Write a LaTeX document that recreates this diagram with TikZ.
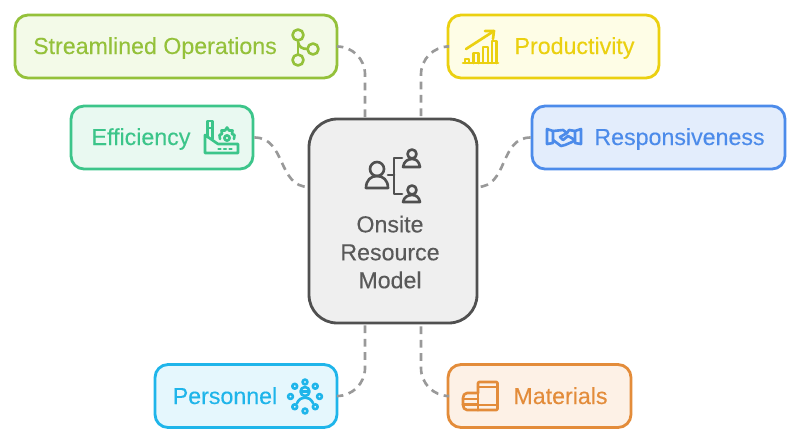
\documentclass[tikz,border=0pt]{standalone}
\usepackage{fontspec}
\setmainfont{Liberation Sans}
\newfontfamily\labelfont{Liberation Sans}[FakeBold=0.25]

\definecolor{slinecol}{HTML}{94C13A}
\definecolor{sfillcol}{HTML}{F3FAE8}
\definecolor{plinecol}{HTML}{EBD010}
\definecolor{pfillcol}{HTML}{FEFDE6}
\definecolor{elinecol}{HTML}{3CC58A}
\definecolor{efillcol}{HTML}{E9F9F1}
\definecolor{rlinecol}{HTML}{4C8BEA}
\definecolor{rfillcol}{HTML}{E3EDFC}
\definecolor{nlinecol}{HTML}{1FB5EA}
\definecolor{nfillcol}{HTML}{E5F7FD}
\definecolor{mlinecol}{HTML}{E38C3A}
\definecolor{mfillcol}{HTML}{FDF1E6}
\definecolor{clinecol}{HTML}{505050}
\definecolor{cfillcol}{HTML}{EFEFEF}
\definecolor{ctextcol}{HTML}{595959}
\definecolor{linkcol}{HTML}{999999}

\begin{document}
\begin{tikzpicture}
    [
        x=0.02cm, y=-0.02cm,
        box/.style 2 args={draw=#1, fill=#2, line width=1.6pt, rounded corners=0.26cm, minimum height=1.26cm, inner sep=0pt},
        label/.style={anchor=base, inner sep=0pt, font=\labelfont\fontsize{13.2}{15.9}\selectfont, text=#1},
        link/.style={draw=linkcol, line width=1.5pt, dash pattern=on 4.4pt off 3.2pt},
        icon/.style={draw=#1, line width=1.5pt, line cap=round, line join=round},
    ]

    \useasboundingbox (0,0) rectangle (800,443);

    % connectors first, boxes on top
    \node (model) at (393,221) [box={clinecol}{cfillcol}, minimum width=3.36cm, minimum height=4.08cm, rounded corners=0.56cm] {};
    \coordinate (tl) at (365,119);
    \coordinate (tr) at (421,119);
    \coordinate (bl) at (365,323);
    \coordinate (br) at (421,323);
    \coordinate (ml) at (309,187);
    \coordinate (mr) at (477,187);

    \node (streamlined) at (176,46.5)  [box={slinecol}{sfillcol}, minimum width=6.44cm] {};
    \node (productivity) at (553.5,46.5) [box={plinecol}{pfillcol}, minimum width=4.22cm] {};
    \node (efficiency) at (162,137.5)  [box={elinecol}{efillcol}, minimum width=3.64cm] {};
    \node (responsive) at (658.5,137.5) [box={rlinecol}{rfillcol}, minimum width=5.06cm] {};
    \node (personnel) at (246,396)     [box={nlinecol}{nfillcol}, minimum width=3.64cm] {};
    \node (materials) at (539.5,396)   [box={mlinecol}{mfillcol}, minimum width=3.66cm] {};

    \draw [link, rounded corners=0.56cm] (streamlined.east) -| (tl);
    \draw [link, rounded corners=0.56cm] (productivity.west) -| (tr);
    \draw [link, rounded corners=0.56cm] (personnel.east) -| (bl);
    \draw [link, rounded corners=0.56cm] (materials.west) -| (br);
    \draw [link] (efficiency.east) to [out=0, in=180, looseness=1.1] (ml);
    \draw [link] (responsive.west) to [out=180, in=0, looseness=1.1] (mr);

    % labels
    \node (slabel) at (155,54)  [label=slinecol] {Streamlined Operations};
    \node (plabel) at (574.5,54) [label=plinecol] {Productivity};
    \node (elabel) at (141,145) [label=elinecol] {Efficiency};
    \node (rlabel) at (679.5,145) [label=rlinecol] {Responsiveness};
    \node (nlabel) at (225,404) [label=nlinecol] {Personnel};
    \node (mlabel) at (560.5,404) [label=mlinecol] {Materials};
    \node (clabel) at (390,252) [label=ctextcol, anchor=center, align=center] {Onsite\\Resource\\Model};

    % branch icon
    \draw [icon=slinecol] (298,35) circle (5.5) (298,60) circle (5.5) (313,49) circle (5.5);
    \draw [icon=slinecol] (298,40.5) -- (298,54.5);
    \draw [icon=slinecol] (298,42) .. controls (299,47) and (302,49) .. (307.5,49);

    % growth icon
    \draw [icon=plinecol] (463,63) -- (498,63);
    \draw [icon=plinecol] (465,63) -- (465,59) -- (469,59) -- (469,63);
    \draw [icon=plinecol] (473.5,63) -- (473.5,53) -- (478.5,53) -- (478.5,63);
    \draw [icon=plinecol] (483,63) -- (483,47) -- (488,47) -- (488,63);
    \draw [icon=plinecol] (492,63) -- (492,41) -- (496.5,41) -- (496.5,63);
    \draw [icon=plinecol] (466,49) -- (494,31);
    \draw [icon=plinecol] (485,31) -- (494,31) -- (493,39);

    % factory icon
    \draw [icon=elinecol] (205,135) -- (205,153) -- (238,153) -- (238,144) -- (218,144) -- cycle;
    \draw [icon=elinecol] (207.5,137) -- (207.5,121) -- (212.5,121) -- (212.5,139);
    \draw [icon=elinecol] (207.5,128) -- (212.5,128);
    \draw [icon=elinecol] (218.5,149) -- (220.5,149) (224,149) -- (226,149) (229.5,149) -- (231.5,149);
    \draw [icon=elinecol] (220,139) -- (219.5,135) -- (222,134) -- (221.5,130.5) -- (225,130.5) -- (227,127.5) -- (229,130.5) -- (232.5,130.5) -- (232,134) -- (234.5,135) -- (234,139);
    \draw [icon=elinecol] (227,138) circle (2.6);

    % handshake icon
    \draw [icon=rlinecol] (547,129) -- (553,131) -- (553,143) -- (547,144) -- cycle;
    \draw [icon=rlinecol] (581,129) -- (575,131) -- (575,143) -- (581,144) -- cycle;
    \draw [icon=rlinecol] (553,131) -- (563,130) -- (567,133) -- (560,137) -- (563,140) -- (568,136) -- (575,140);
    \draw [icon=rlinecol] (553,140) -- (561,146) -- (565,145) -- (572,142) -- (575,140);
    \draw [icon=rlinecol] (567,133) -- (569,130) -- (575,131);

    % network icon
    \foreach \a in {0,45,...,315}
        \draw [icon=nlinecol] (305,396.5) ++(\a:14.5) circle (2.4);
    \draw [icon=nlinecol] (305,391.5) circle (4.5);
    \draw [icon=nlinecol] (302,391.5) -- (308,391.5);
    \draw [icon=nlinecol] (297,403) .. controls (299,399) and (302,397.5) .. (305,397.5) .. controls (308,397.5) and (311,399) .. (313,403);

    % materials icon
    \draw [icon=mlinecol, rounded corners=0.02cm] (478,410) -- (497.5,410) -- (497.5,382) -- (478,382) -- (478,393);
    \draw [icon=mlinecol] (478,387) -- (497.5,387) (478,405) -- (497.5,405);
    \draw [icon=mlinecol, rounded corners=0.04cm] (478,393) -- (465,393) -- (463,396) -- (463,407) -- (465,410) -- (478,410);
    \draw [icon=mlinecol] (463,399) -- (478,399) (463,404.5) -- (478,404.5) (478,393) -- (478,410);

    % people icon
    \draw [icon=clinecol] (377,169) circle (7);
    \draw [icon=clinecol] (366,188) .. controls (366,180) and (371,176) .. (377,176) .. controls (383,176) and (388,180) .. (388,188) -- cycle;
    \draw [icon=clinecol] (388,175) -- (394,175);
    \draw [icon=clinecol] (402,158) -- (394,158) -- (394,194) -- (402,194);
    \draw [icon=clinecol] (412,154) circle (4.5);
    \draw [icon=clinecol] (403,167) .. controls (404,161) and (408,159) .. (412,159) .. controls (416,159) and (419,161) .. (420,167) -- cycle;
    \draw [icon=clinecol] (412,190) circle (4.5);
    \draw [icon=clinecol] (403,202) .. controls (404,197) and (408,195) .. (412,195) .. controls (416,195) and (419,197) .. (420,202) -- cycle;
\end{tikzpicture}
\end{document}
